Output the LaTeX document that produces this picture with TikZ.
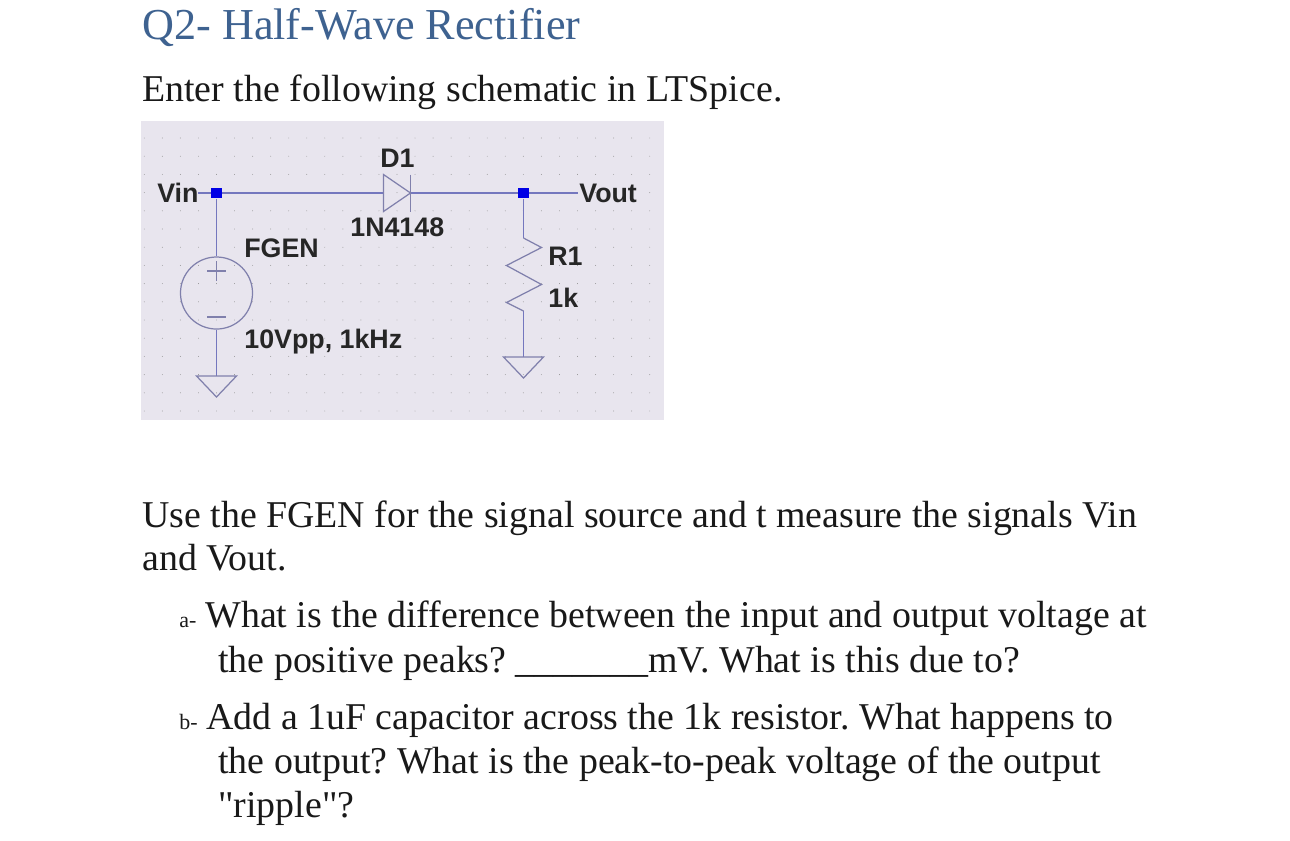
\documentclass[tikz,border=0pt]{standalone}
\usepackage{fontspec}
\setmainfont{Liberation Serif}
\newfontfamily\labelfont{Liberation Sans}
\newfontfamily\rawserif{Liberation Serif}
\definecolor{wirecol}{HTML}{7477BE}
\definecolor{panelcol}{HTML}{E8E5EE}
\definecolor{titlecol}{HTML}{3E6290}
\definecolor{symcol}{HTML}{8080AC}
\tikzset{
  body/.style={anchor=base west,inner sep=0pt,font=\fontsize{21.55}{25}\selectfont,text=black!90},
  tag/.style={anchor=base west,inner sep=0pt,font=\labelfont\bfseries\fontsize{15.25}{18}\selectfont,text=black!85},
  wire/.style={draw=wirecol,line width=0.85pt},
  sym/.style={draw=symcol,line width=0.7pt},
  junction/.style={fill=blue!90!black,minimum size=6pt,inner sep=0pt}
}
\frenchspacing
\begin{document}
\begin{tikzpicture}[x=0.02cm,y=-0.02cm]
  \useasboundingbox (0,0) rectangle (1290,840);
  \fill [white] (0,0) rectangle (1290,840);
  \fill [panelcol] (141,121) rectangle (664,420);
  % grid
  \foreach \i in {0,...,28}
    \foreach \j in {0,...,15}
      \fill [black!45] (144.3+18.05*\i,138+18.2*\j) circle (0.25pt);
  % text
  \node [body,text=titlecol,font=\fontsize{25.15}{28}\selectfont] (title) at (142,39) {Q2- Half-Wave Rectifier};
  \node [body] (enter) at (142,101) {Enter the following schematic in LTSpice.};
  \node [body] (use1) at (142,527) {Use the FGEN for the signal source and t measure the signals Vin};
  \node [body] (use2) at (142,570) {and Vout.};
  \node [body,font=\fontsize{12.5}{14}\selectfont] (amark) at (179,627) {a-};
  \node [body] (a1) at (205,627) {What is the difference between the input and output voltage at};
  \node [body] (a2) at (218,672) {the positive peaks? \_\_\_\_\_\_\_mV. What is this due to?};
  \node [body,font=\fontsize{12.5}{14}\selectfont] (bmark) at (179,729) {b-};
  \node [body] (b1) at (206,729) {Add a 1uF capacitor across the 1k resistor. What happens to};
  \node [body] (b2) at (218,773) {the output? What is the peak-to-peak voltage of the output};
  \node [body,font=\rawserif\fontsize{21.55}{25}\selectfont] (b3) at (218,817) {"ripple"?};
  % labels
  \node [tag] (vin) at (157,202) {Vin};
  \node [tag] (vout) at (579,202) {Vout};
  \node [tag] (d1) at (380,167) {D1};
  \node [tag] (part) at (350,236) {1N4148};
  \node [tag] (fgen) at (244,257) {FGEN};
  \node [tag] (wave) at (244,348) {10Vpp, 1kHz};
  \node [tag] (r1) at (548,265) {R1};
  \node [tag] (rval) at (548,307) {1k};
  % junctions and pins
  \node [junction] (nin) at (216.5,193) {};
  \node [junction] (nout) at (523.5,193) {};
  \coordinate (vinend) at (198,193);
  \coordinate (voutend) at (578,193);
  \coordinate (da) at (383.5,193);
  \coordinate (dk) at (410.5,193);
  \coordinate (rtop) at (523.5,238);
  \coordinate (rbot) at (523.5,311);
  \coordinate (gnd1) at (216.5,376);
  \coordinate (gnd2) at (523.5,357);
  % source
  \node [circle,sym,fill=none,minimum size=41pt,inner sep=0pt] (src) at (216.5,293) {};
  % wires
  \draw [wire] (vinend) -- (nin);
  \draw [wire] (nin) -- (da);
  \draw [wire] (dk) -- (nout);
  \draw [wire] (nout) -- (voutend);
  \draw [wire] (nin) -- (src);
  \draw [wire] (src) -- (gnd1);
  \draw [wire] (nout) -- (rtop);
  \draw [wire] (rbot) -- (gnd2);
  % diode
  \draw [sym] (da) -- ++(0,-18.5) -- (dk) -- (383.5,211.5) -- cycle;
  \draw [sym] (410.5,174.5) -- (410.5,211.5);
  % plus and minus
  \draw [sym] (207,271) -- (226,271) (216.5,261) -- (216.5,281);
  \draw [sym] (207,317) -- (226,317);
  % resistor
  \draw [sym] (rtop) -- (541.5,247.5) -- (506.5,265.5) -- (541.5,284.5) -- (506.5,302.5) -- (rbot);
  % grounds
  \draw [sym] (gnd1) -- ++(-20,0) -- ++(20,21) -- ++(20,-21) -- cycle;
  \draw [sym] (gnd2) -- ++(-20,0) -- ++(20,21) -- ++(20,-21) -- cycle;
\end{tikzpicture}
\end{document}
